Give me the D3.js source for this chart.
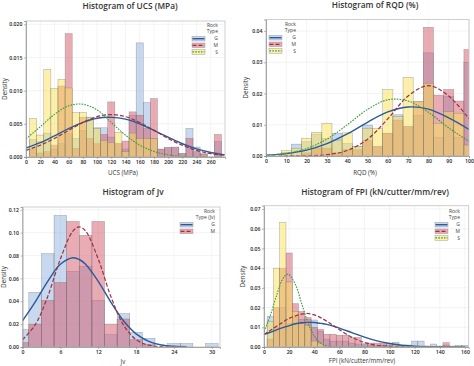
<!DOCTYPE html>
<html>
<head>
<meta charset="utf-8">
<script src="https://cdn.jsdelivr.net/npm/d3@7"></script>
<style>
  body { margin: 0; background: #fff; font-family: "Open Sans", "Noto Sans", sans-serif; }
</style>
</head>
<body>
<script>
// ---- UCS (MPa) ----
var ucsCenters = [10,20,30,40,50,60,70,80,90,100,110,120,130,140,150,160,170,180,190,200,210,220,230,240,250,260,270];
var ucsG = [0.0026,0.0023,0.0036,0.0012,0.0020,0.0035,0.0028,0.0040,0.0060,0.0044,0.0044,0.0030,0.0020,0.0012,0.0063,0.0172,0.0082,0.0028,0.0011,0.0014,0.0015,0.0005,0.0043,0.0015,0.0004,0,0.0023];
var ucsM = [0.0012,0.0006,0.0008,0.0018,0.0107,0.0186,0.0013,0.0060,0.0028,0.0020,0.0034,0.0083,0.0020,0.0024,0.0068,0.0063,0.0043,0.0088,0.0012,0.0014,0.0014,0.0005,0.0028,0.0008,0.0005,0,0.0034];
var ucsS = [0.0058,0.0033,0.0132,0.0103,0.0117,0.0104,0.0067,0.0067,0.0060,0.0043,0.0025,0.0022,0.0037,0.0008,0.0036,0.0028,0.0028,0.0028,0,0,0,0,0,0,0,0,0];
var ucsCurveX = [0,20,40,60,80,100,120,140,160,180,200,220,240,260,280];
var ucsCurveG = [0.00135,0.00216,0.00318,0.00426,0.00522,0.00585,0.00598,0.00570,0.00500,0.00400,0.00300,0.00200,0.00122,0.00068,0.00032];
var ucsCurveM = [0.00100,0.00177,0.00280,0.00402,0.00520,0.00608,0.00640,0.00608,0.00520,0.00402,0.00280,0.00177,0.00100,0.00051,0.00024];
var ucsCurveS = [0.00275,0.00455,0.00642,0.00771,0.00795,0.00710,0.00520,0.00330,0.00180,0.00085,0.00033,0.00010,0.00003,0,0];
var ucsXTicks = [0,20,40,60,80,100,120,140,160,180,200,220,240,260];
var ucsYTicks = [0,0.005,0.010,0.015,0.020];

// ---- RQD (%) ----
var rqdCenters = [10,15,20,25,30,35,40,45,50,55,60,65,70,75,80,85,90,95,100];
var rqdG = [0.0012,0.0038,0.0046,0.0070,0.0057,0.0073,0.0040,0.0030,0.0099,0.0030,0.0073,0.0132,0.0094,0.0130,0.0330,0.0060,0.0190,0.0060,0.0300];
var rqdM = [0,0,0.0010,0.0025,0.0025,0.0010,0.0020,0.0020,0.0050,0.0030,0.0073,0.0115,0.0094,0.0174,0.0412,0.0195,0.0213,0.0176,0.0341];
var rqdS = [0.0017,0.0025,0.0057,0.0076,0.0105,0.0051,0.0074,0.0030,0.0089,0.0089,0.0213,0.0126,0.0252,0.0174,0.0233,0.0105,0.0142,0.0137,0.0035];
var rqdCurveX = [0,10,20,30,40,50,60,70,80,90,100];
var rqdCurveG = [0.00027,0.00077,0.00188,0.00394,0.00706,0.0108,0.0141,0.0157,0.0150,0.0122,0.0085];
var rqdCurveM = [0,0.00001,0.00007,0.00042,0.00175,0.00536,0.0119,0.0192,0.0225,0.0192,0.0119];
var rqdCurveS = [0.00025,0.00085,0.00238,0.0054,0.00998,0.0149,0.0180,0.0176,0.0140,0.0090,0.00468];
var rqdXTicks = [0,10,20,30,40,50,60,70,80,90,100];
var rqdYTicks = [0,0.01,0.02,0.03,0.04];

// ---- Jv ----
var jvCenters = [0,2,4,6,8,10,12,14,16,18,20,22,24,26,28,30];
var jvG = [0.0151,0.0478,0.0816,0.1150,0.0661,0.0705,0.0408,0.0108,0.0291,0.0128,0.0076,0,0.0030,0.0030,0,0.0030];
var jvM = [0.0040,0.0200,0.0408,0.0565,0.1098,0.0976,0.1098,0.0200,0.0245,0.0064,0.0020,0,0,0,0,0];
var jvCurveX = [0,2,4,6,8,9,10,12,14,16,18,20,22,24,26];
var jvCurveG = [0.0229,0.0392,0.0574,0.0723,0.0780,0.0765,0.0723,0.0574,0.0392,0.0229,0.0115,0.0050,0.0018,0.0006,0.0002];
var jvCurveM = [0.0064,0.0193,0.0442,0.0769,0.1014,0.1050,0.1014,0.0769,0.0442,0.0193,0.0064,0.0016,0.0003,0,0];
var jvXTicks = [0,6,12,18,24,30];
var jvYTicks = [0,0.02,0.04,0.06,0.08,0.10,0.12];

// ---- FPI (kN/cutter/mm/rev) ----
var fpiCenters = [5,10,15,20,25,30,35,40,45,50,55,60,65,70,75,80,85,90,95,100,105,110,115,120,125,130,135,140,145,150,155,160];
var fpiG = [0.0155,0.0100,0.0200,0.0120,0.0150,0.0140,0.0140,0.0137,0.0080,0.0040,0.0030,0.0030,0.0030,0.0020,0.0015,0.0020,0.0010,0.0005,0.0010,0.0020,0.0024,0.0008,0.0010,0.0030,0.0030,0.0005,0.0015,0.0005,0.0010,0.0005,0.0008,0.0008];
var fpiM = [0.0040,0.0200,0.0400,0.0477,0.0220,0.0180,0.0150,0.0100,0.0090,0.0065,0.0065,0.0060,0.0060,0.0048,0.0048,0.0012,0.0020,0.0020,0.0020,0.0010,0.0012,0,0,0,0,0,0,0,0.0022,0,0,0];
var fpiS = [0.0130,0.0400,0.0632,0.0330,0.0180,0.0120,0.0110,0.0030,0.0020,0,0,0,0,0,0,0,0,0,0,0,0.0015,0,0,0,0,0,0,0,0,0,0,0];
var fpiCurveX = [0,5,10,15,19,25,30,35,40,45,50,55,60,70,80,90,100,110,120,140,160];
var fpiCurveG = [0.0064,0.0075,0.0087,0.0098,0.0106,0.0118,0.0123,0.0125,0.0124,0.0120,0.0115,0.0106,0.0096,0.0073,0.0050,0.0031,0.0018,0.0009,0.0004,0.0001,0];
var fpiCurveM = [0.0063,0.0084,0.0105,0.0126,0.0142,0.0158,0.0167,0.0170,0.0163,0.0149,0.0131,0.0110,0.0088,0.0049,0.0023,0.0009,0.0003,0.0001,0,0,0];
var fpiCurveS = [0.0079,0.0160,0.0261,0.0346,0.0370,0.0317,0.0220,0.0123,0.0056,0.0020,0.0006,0.0001,0,0,0,0,0,0,0,0,0];
var fpiXTicks = [0,20,40,60,80,100,120,140,160];
var fpiYTicks = [0,0.01,0.02,0.03,0.04,0.05,0.06,0.07];

var fills = { G: "#92b2de", M: "#d45a6a", S: "#fbe256" };
var lines = {
  G: { color: "#2a5a9c", dash: null, w: 1.4 },
  M: { color: "#9e2f3e", dash: "4,2", w: 1.2 },
  S: { color: "#3d9a3d", dash: "1.6,1.2", w: 1.1 }
};

var svg = d3.select("body").append("svg")
  .attr("width", 474)
  .attr("height", 366);

function drawPanel(p, id) {
  var x = d3.scaleLinear().domain(p.xDomain).range([p.l, p.r]);
  var y = d3.scaleLinear().domain(p.yDomain).range([p.b, p.t]);
  var g = svg.append("g");

  g.append("clipPath").attr("id", "clip" + id)
    .append("rect").attr("x", p.l).attr("y", p.t).attr("width", p.r - p.l).attr("height", p.b - p.t);

  // grid
  g.selectAll(".vg").data(p.xTicks).enter().append("line")
    .attr("x1", d => x(d)).attr("x2", d => x(d)).attr("y1", p.t).attr("y2", p.b)
    .attr("stroke", "#ececec").attr("stroke-width", 0.6);
  g.selectAll(".hg").data(p.yTicks).enter().append("line")
    .attr("x1", p.l).attr("x2", p.r).attr("y1", d => y(d)).attr("y2", d => y(d))
    .attr("stroke", "#ececec").attr("stroke-width", 0.6);

  var plot = g.append("g").attr("clip-path", "url(#clip" + id + ")");

  p.series.forEach(function(s) {
    plot.selectAll(".bar" + s.key).data(p.centers.map((c, i) => [c, s.values[i]]).filter(d => d[1] > 0))
      .enter().append("rect")
      .attr("x", d => x(d[0] - p.bw / 2))
      .attr("width", d => x(d[0] + p.bw / 2) - x(d[0] - p.bw / 2))
      .attr("y", d => y(d[1]))
      .attr("height", d => y(0) - y(d[1]))
      .attr("fill", fills[s.key])
      .attr("fill-opacity", 0.5)
      .attr("stroke", "#6e6e6e")
      .attr("stroke-opacity", 0.6)
      .attr("stroke-width", 0.5);
  });

  p.series.forEach(function(s) {
    var line = d3.line().x(d => x(d[0])).y(d => y(d[1])).curve(d3.curveCatmullRom);
    plot.append("path")
      .datum(p.curveX.map((v, i) => [v, s.curve[i]]))
      .attr("d", line)
      .attr("fill", "none")
      .attr("stroke", lines[s.key].color)
      .attr("stroke-width", lines[s.key].w)
      .attr("stroke-dasharray", lines[s.key].dash);
  });

  // frame
  g.append("rect").attr("x", p.l).attr("y", p.t).attr("width", p.r - p.l).attr("height", p.b - p.t)
    .attr("fill", "none").attr("stroke", "#c4c4c4").attr("stroke-width", 0.8);

  var xa = g.append("g").attr("transform", "translate(0," + p.b + ")")
    .call(d3.axisBottom(x).tickValues(p.xTicks).tickSize(2).tickPadding(1.5).tickFormat(d3.format("d")));
  var ya = g.append("g").attr("transform", "translate(" + p.l + ",0)")
    .call(d3.axisLeft(y).tickValues(p.yTicks).tickSize(2).tickPadding(1.5).tickFormat(d3.format(p.yFormat)));
  [xa, ya].forEach(function(a) {
    a.selectAll("path").attr("stroke", "#8a8a8a").attr("stroke-width", 0.7);
    a.selectAll("line").attr("stroke", "#8a8a8a").attr("stroke-width", 0.6);
    a.selectAll("text").attr("font-size", 5.2).attr("fill", "#222").attr("font-weight", 600)
      .attr("font-family", "'Open Sans', sans-serif");
  });

  g.append("text").attr("x", p.titleX).attr("y", p.titleY).attr("text-anchor", "middle")
    .attr("font-size", 8.3).attr("font-weight", 600).attr("fill", "#333").text(p.title);
  g.append("text").attr("x", p.xlabX).attr("y", p.xlabY).attr("text-anchor", "middle")
    .attr("font-size", 6.2).attr("fill", "#333").text(p.xlab);
  g.append("text").attr("transform", "translate(" + p.ylabX + "," + ((p.t + p.b) / 2) + ") rotate(-90)")
    .attr("text-anchor", "middle").attr("font-size", 6.2).attr("fill", "#333").text("Density");

  // legend
  var lg = p.legend;
  lg.head.forEach(function(t, i) {
    g.append("text").attr("x", lg.textX).attr("y", lg.y + i * 6.2).attr("text-anchor", "end")
      .attr("font-size", 5).attr("fill", "#444").text(t);
  });
  p.series.forEach(function(s, i) {
    var yy = lg.y + lg.head.length * 6.2 + 1 + i * 6.6;
    g.append("rect").attr("x", lg.swX).attr("y", yy - 4).attr("width", 13).attr("height", 4.6)
      .attr("fill", fills[s.key]).attr("fill-opacity", 0.5).attr("stroke", "#888").attr("stroke-width", 0.4);
    g.append("line").attr("x1", lg.swX + 0.5).attr("x2", lg.swX + 12.5).attr("y1", yy - 1.7).attr("y2", yy - 1.7)
      .attr("stroke", lines[s.key].color).attr("stroke-width", lines[s.key].w).attr("stroke-dasharray", lines[s.key].dash);
    g.append("text").attr("x", lg.textX).attr("y", yy).attr("text-anchor", "end")
      .attr("font-size", 5).attr("fill", "#444").text(s.key);
  });
}

drawPanel({
  l: 26, r: 225, t: 21, b: 157, xDomain: [0, 280], yDomain: [0, 0.0205],
  centers: ucsCenters, bw: 10, xTicks: ucsXTicks, yTicks: ucsYTicks, yFormat: ".3f",
  curveX: ucsCurveX,
  series: [
    { key: "G", values: ucsG, curve: ucsCurveG },
    { key: "M", values: ucsM, curve: ucsCurveM },
    { key: "S", values: ucsS, curve: ucsCurveS }
  ],
  title: "Histogram of UCS (MPa)", titleX: 130, titleY: 9,
  xlab: "UCS (MPa)", xlabX: 123, xlabY: 175, ylabX: 7,
  legend: { head: ["Rock", "Type"], textX: 218, swX: 192, y: 27 }
}, 1);

drawPanel({
  l: 266, r: 469, t: 19.5, b: 156, xDomain: [0, 100], yDomain: [0, 0.0437],
  centers: rqdCenters, bw: 5, xTicks: rqdXTicks, yTicks: rqdYTicks, yFormat: ".2f",
  curveX: rqdCurveX,
  series: [
    { key: "G", values: rqdG, curve: rqdCurveG },
    { key: "M", values: rqdM, curve: rqdCurveM },
    { key: "S", values: rqdS, curve: rqdCurveS }
  ],
  title: "Histogram of RQD (%)", titleX: 375, titleY: 8,
  xlab: "RQD (%)", xlabX: 365, xlabY: 175, ylabX: 248,
  legend: { head: ["Rock", "Type"], textX: 296, swX: 269, y: 26 }
}, 2);

drawPanel({
  l: 22.5, r: 220, t: 207, b: 347, xDomain: [0, 31.3], yDomain: [0, 0.1224],
  centers: jvCenters, bw: 2, xTicks: jvXTicks, yTicks: jvYTicks, yFormat: ".2f",
  curveX: jvCurveX,
  series: [
    { key: "G", values: jvG, curve: jvCurveG },
    { key: "M", values: jvM, curve: jvCurveM }
  ],
  title: "Histogram of Jv", titleX: 133, titleY: 195,
  xlab: "Jv", xlabX: 123, xlabY: 364, ylabX: 6,
  legend: { head: ["Rock", "Type (Jv)"], textX: 215, swX: 180, y: 213 }
}, 3);

drawPanel({
  l: 264, r: 468.7, t: 205.7, b: 347, xDomain: [0, 163], yDomain: [0, 0.0717],
  centers: fpiCenters, bw: 5, xTicks: fpiXTicks, yTicks: fpiYTicks, yFormat: ".2f",
  curveX: fpiCurveX,
  series: [
    { key: "G", values: fpiG, curve: fpiCurveG },
    { key: "M", values: fpiM, curve: fpiCurveM },
    { key: "S", values: fpiS, curve: fpiCurveS }
  ],
  title: "Histogram of FPI (kN/cutter/mm/rev)", titleX: 375, titleY: 195,
  xlab: "FPI (kN/cutter/mm/rev)", xlabX: 362, xlabY: 363, ylabX: 245,
  legend: { head: ["Rock", "Type"], textX: 460, swX: 435, y: 213 }
}, 4);
</script>
</body>
</html>
